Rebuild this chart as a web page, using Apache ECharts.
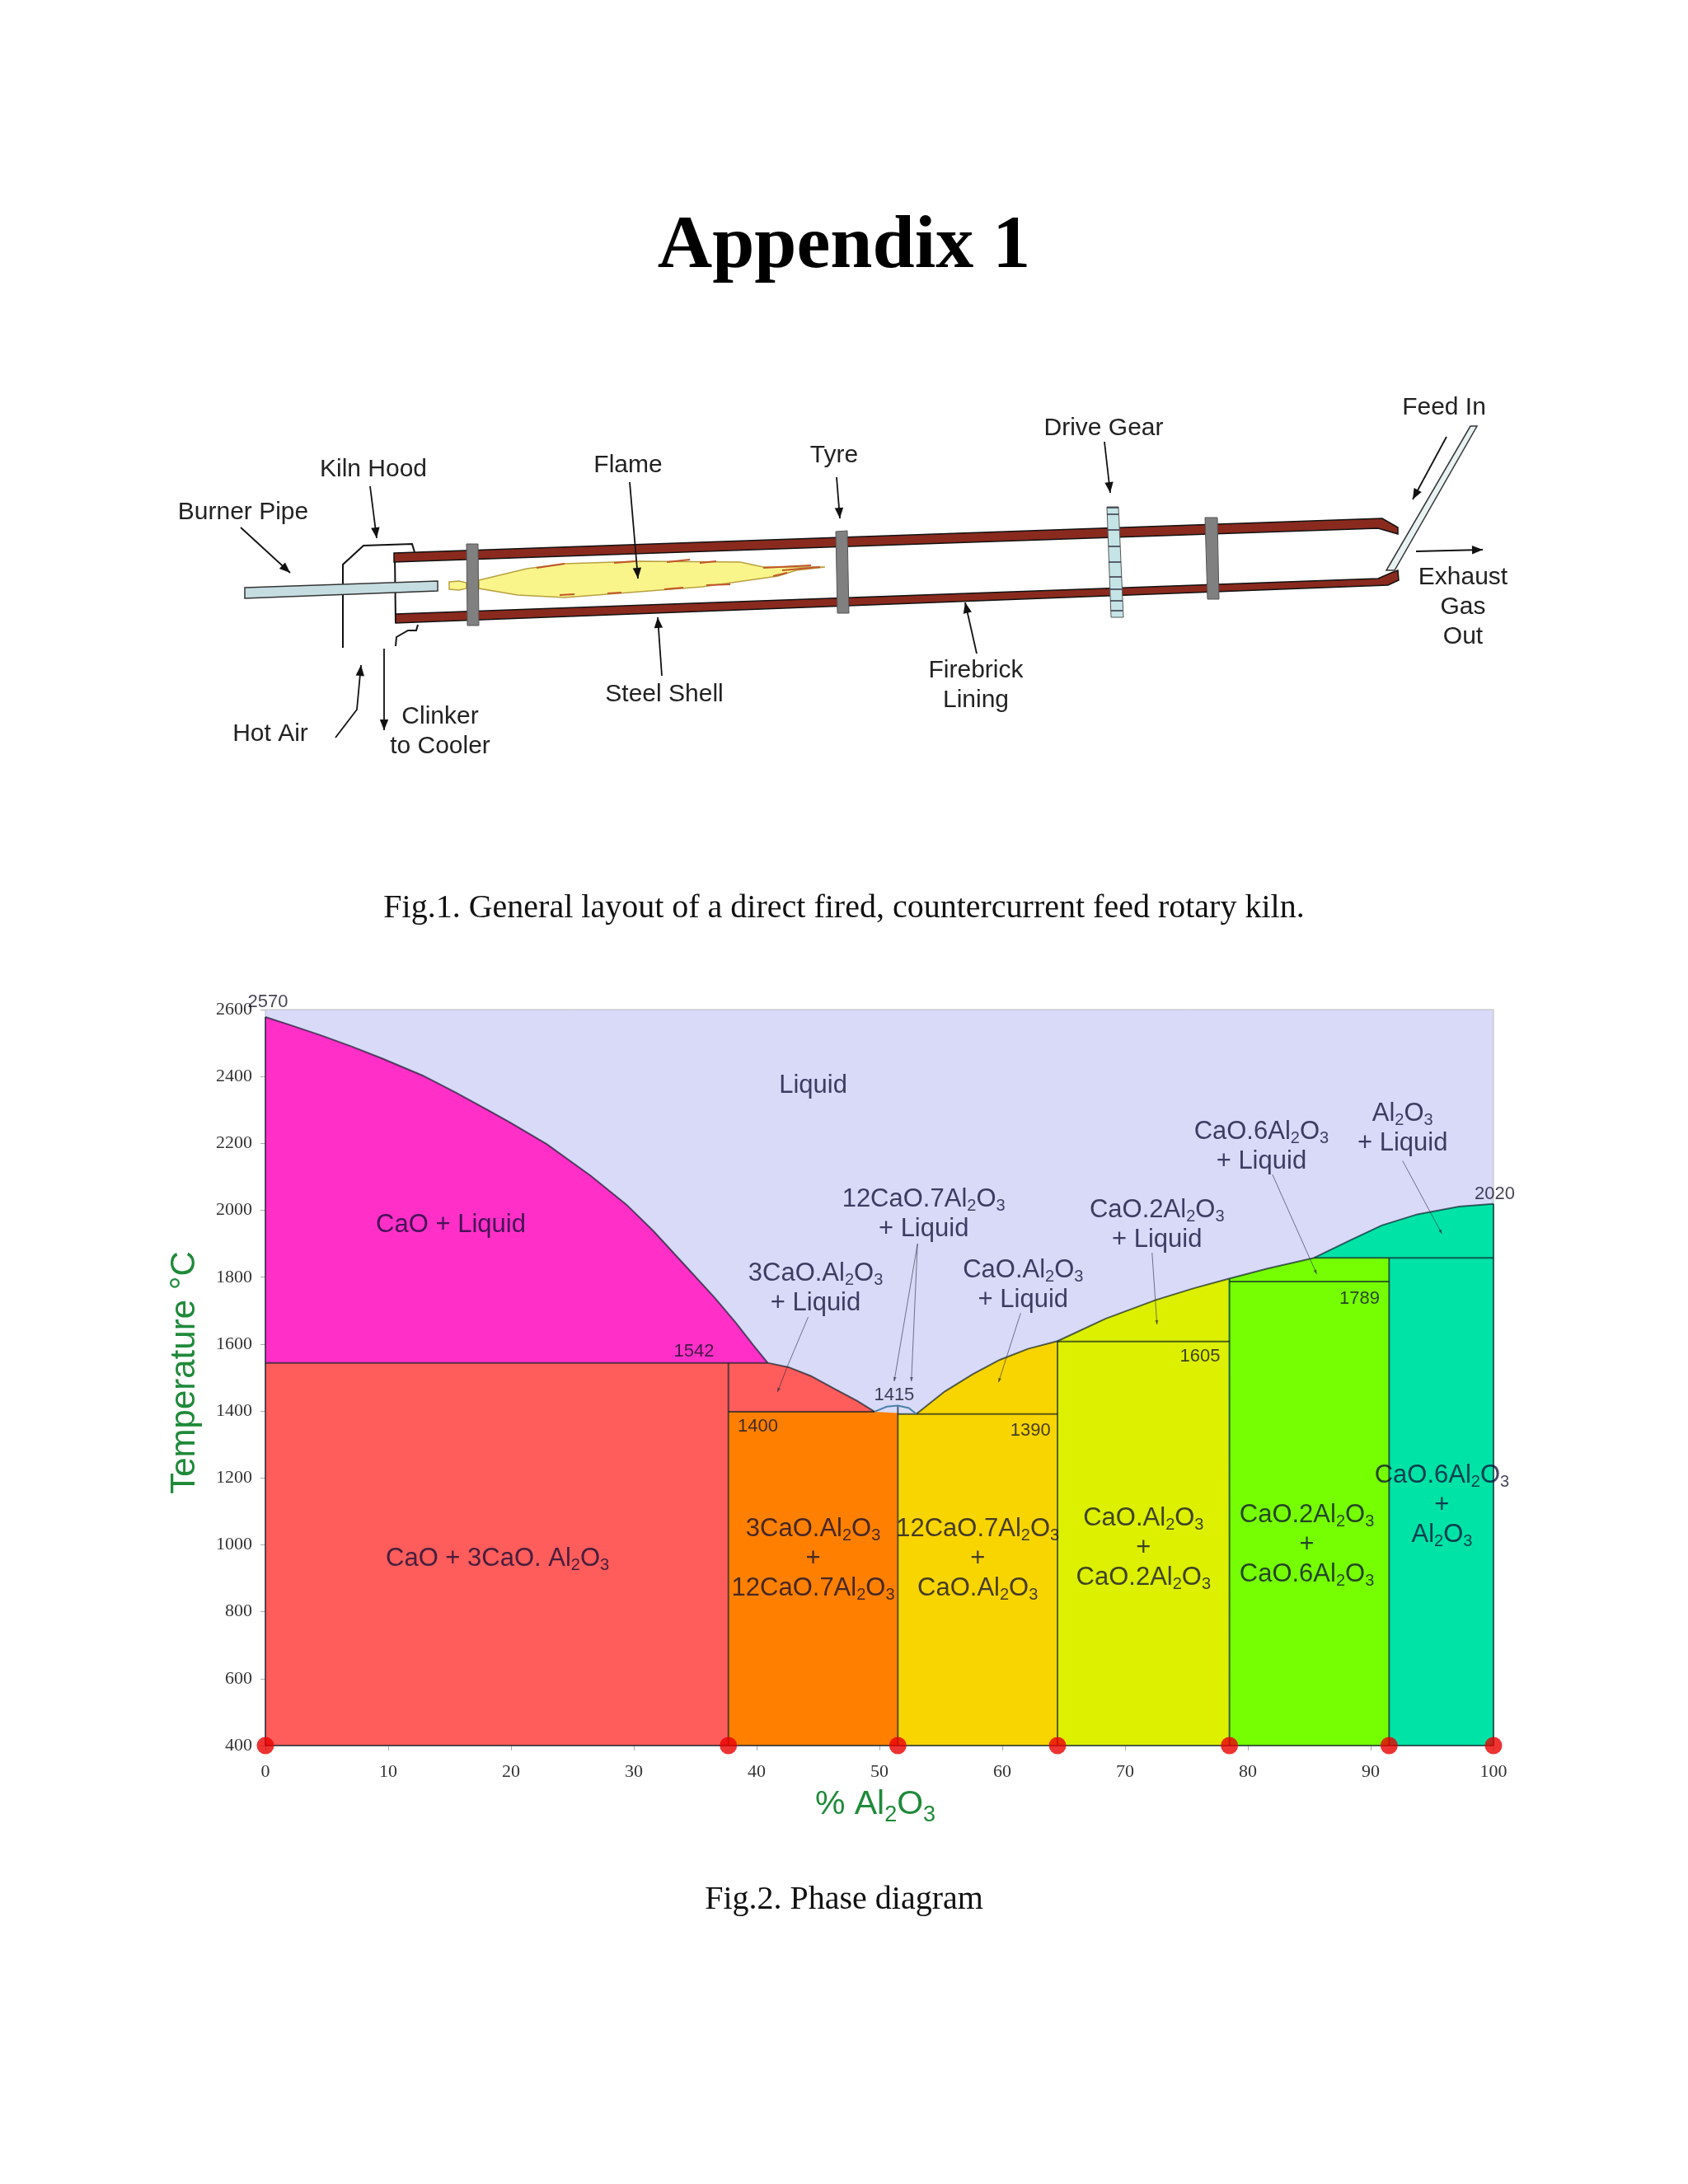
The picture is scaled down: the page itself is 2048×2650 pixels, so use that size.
<!DOCTYPE html>
<html>
<head>
<meta charset="utf-8">
<title>Appendix 1</title>
<script src="https://cdn.jsdelivr.net/npm/echarts@6/dist/echarts.min.js"></script>
<style>
  html, body { margin: 0; padding: 0; background: #fff; }
  #chart { width: 2048px; height: 2650px; }
</style>
</head>
<body>
<div id="chart"></div>
<script>
// phase diagram: x = % Al2O3, y = temperature
var xTicks = [0, 100, 10];
var yTicks = [400, 2600, 200];
var phaseBreaks = [0, 37.7, 51.5, 64.5, 78.5, 91.5, 100];

var limeX = [0, 2.1, 4.6, 7, 9.5, 12.8, 15.5, 18.2, 20, 22.9, 26.5, 29.4, 31.6, 34.3, 36.6, 38.3, 39.7, 40.9];
var limeT = [2578, 2553, 2522, 2490, 2454, 2403, 2352, 2298, 2261, 2198, 2103, 2017, 1938, 1830, 1738, 1664, 1598, 1544];
var c3aX = [40.9, 42.6, 44.4, 46.4, 48.2, 49.6];
var c3aT = [1544, 1531, 1505, 1465, 1430, 1398];
var domeX = [49.6, 50.6, 51.5, 52.4, 53];
var domeT = [1398, 1413, 1416, 1409, 1391];
var caX = [53, 55.3, 57.6, 59.8, 62.1, 64.5];
var caT = [1391, 1458, 1510, 1553, 1586, 1609];
var ca2X = [64.5, 68.4, 72.5, 75.6, 78.4];
var ca2T = [1609, 1676, 1732, 1767, 1795];
var ca6X = [78.4, 81.6, 85.4];
var ca6T = [1795, 1826, 1858];
var aluminaX = [85.4, 88.3, 90.9, 93.8, 97.2, 100];
var aluminaT = [1858, 1910, 1955, 1988, 2011, 2019];

var solidusT = { c: 1544, c3a: 1398, ca: 1391, ca2: 1608, ca6: 1787, alumina: 1858 };

var phaseNames = [
  "Liquid", "CaO + Liquid", "CaO + 3CaO. Al_2O_3", "3CaO.Al_2O_3\n+ Liquid",
  "12CaO.7Al_2O_3\n+ Liquid", "CaO.Al_2O_3\n+ Liquid", "CaO.2Al_2O_3\n+ Liquid",
  "CaO.6Al_2O_3\n+ Liquid", "Al_2O_3\n+ Liquid", "3CaO.Al_2O_3\n+\n12CaO.7Al_2O_3",
  "12CaO.7Al_2O_3\n+\nCaO.Al_2O_3", "CaO.Al_2O_3\n+\nCaO.2Al_2O_3",
  "CaO.2Al_2O_3\n+\nCaO.6Al_2O_3", "CaO.6Al_2O_3\n+\nAl_2O_3"
];
var phaseNameX = [44.6, 15.1, 18.9, 44.8, 53.6, 61.7, 72.6, 81.1, 92.6, 44.6, 58, 71.5, 84.8, 95.8];
var phaseNameT = [2373, 1956, 959, 1767, 1989, 1775, 1955, 2189, 2245, 957, 957, 991, 999, 1119];

var tempNotes = ["2570", "1542", "1400", "1415", "1390", "1605", "1789", "2020"];
var tempNoteX = [0.2, 34.9, 40.1, 51.2, 62.3, 76.1, 89.1, 100.1];
var tempNoteT = [2623, 1578, 1353, 1447, 1342, 1563, 1735, 2049];

var leaders = [
  [[44.2, 1681], [42.5, 1533], [41.7, 1457]],
  [[53.1, 1900], [51.2, 1489]],
  [[53.1, 1900], [52.6, 1489]],
  [[61.5, 1693], [59.7, 1486]],
  [[72.2, 1873], [72.6, 1659]],
  [[82, 2107], [85.6, 1810]],
  [[92.6, 2148], [95.8, 1930]]
];

// kiln sketch in its own hidden axes
var shellUpper = [[478, 671], [1677, 629], [1696, 640], [1696, 648], [1672, 641], [478, 682]];
var shellLower = [[480, 745], [1672, 702], [1688, 695], [1696, 692], [1697, 704], [1684, 710], [480, 756]];
var tyres = [
  [[566, 660], [580, 660], [581, 759], [567, 759]],
  [[1014, 645], [1028, 644], [1030, 744], [1016, 744]],
  [[1462, 628], [1477, 628], [1479, 727], [1465, 727]]
];
var driveGear = [[1343, 615], [1357, 615], [1363, 749], [1348, 749]];
var gearTeeth = [
  [[1343, 616], [1357, 616]], [[1343, 624], [1357, 624]], [[1344, 643], [1358, 643]],
  [[1345, 663], [1359, 663]], [[1345, 682], [1360, 682]], [[1346, 700], [1361, 700]],
  [[1347, 715], [1361, 715]], [[1347, 729], [1362, 729]], [[1348, 741], [1362, 741]]
];
var burnerPipe = [[297, 713], [531, 705], [531, 717], [297, 726]];
var flame = [
  [581, 704], [639, 690], [685, 684], [777, 681], [898, 682], [926, 688], [1001, 688],
  [966, 692], [944, 699], [852, 712], [737, 721], [685, 725], [628, 722], [581, 714]
];
var nozzle = [[545, 706], [557, 705], [566, 707], [566, 714], [557, 716], [545, 715]];
var flameStreaks = [
  [[651, 689], [685, 684]], [[745, 683], [771, 681]], [[809, 682], [837, 679]], [[849, 683], [869, 681]],
  [[926, 689], [984, 686]], [[949, 692], [995, 688]], [[938, 699], [955, 695]], [[857, 710], [886, 709]],
  [[806, 715], [829, 713]], [[737, 720], [754, 719]], [[679, 722], [697, 721]]
];
var hoodLines = [
  [[416, 786], [416, 685], [441, 662], [500, 660], [503, 670]],
  [[480, 784], [481, 773], [495, 765], [505, 765], [507, 758]],
  [[479, 672], [480, 756]]
];
var feedPipe = [[1784, 517], [1792, 517], [1692, 692], [1682, 692]];
var kilnArrows = [
  [[292, 640], [352, 695]], [[449, 590], [457, 653]], [[764, 585], [774, 702]],
  [[1015, 579], [1019, 629]], [[803, 820], [798, 749]], [[407, 895], [433, 861], [438, 807]],
  [[466, 787], [466, 886]], [[1340, 536], [1347, 598]], [[1755, 530], [1714, 606]],
  [[1718, 669], [1799, 667]], [[1185, 793], [1171, 731]]
];
var kilnNames = [
  "Burner Pipe", "Kiln Hood", "Flame", "Tyre", "Steel Shell", "Hot Air", "Clinker\nto Cooler",
  "Drive Gear", "Feed In", "Exhaust\nGas\nOut", "Firebrick\nLining"
];
var kilnNameX = [295, 453, 762, 1012, 806, 328, 534, 1339, 1752, 1775, 1184];
var kilnNameY = [622, 570, 565, 553, 843, 891, 888, 520, 495, 737, 832];

function zipXY(xs, ys) {
  return xs.map(function (x, i) { return [x, ys[i]]; });
}

var limeCurve = zipXY(limeX, limeT);
var c3aCurve = zipXY(c3aX, c3aT);
var domeCurve = zipXY(domeX, domeT);
var caCurve = zipXY(caX, caT);
var ca2Curve = zipXY(ca2X, ca2T);
var ca6Curve = zipXY(ca6X, ca6T);
var aluminaCurve = zipXY(aluminaX, aluminaT);

var b = phaseBreaks;
var regions = [
  [[0, solidusT.c]].concat(limeCurve),
  [[0, 400], [0, solidusT.c], [b[1], solidusT.c], [b[1], 400]],
  [[b[1], solidusT.c3a], [b[1], solidusT.c]].concat(c3aCurve),
  [[b[1], 400], [b[1], solidusT.c3a], [b[2], solidusT.c3a], [b[2], 400]],
  [[b[2], 400], [b[2], solidusT.ca]].concat(caCurve, [[b[3], 400]]),
  [[b[3], 400]].concat(ca2Curve, [[b[4], 400]]),
  [[b[4], 400]].concat(ca6Curve, [[b[5], solidusT.alumina], [b[5], 400]]),
  [[b[5], 400], [b[5], solidusT.alumina]].concat(aluminaCurve, [[b[6], 400]])
];
var regionColors = ["#ff2fc8", "#ff5c5c", "#ff5c5c", "#ff8000", "#f9d500", "#dcf000", "#76ff03", "#00e3a6"];

var boundaries = [
  limeCurve, c3aCurve, caCurve, ca2Curve, ca6Curve, aluminaCurve,
  [[0, solidusT.c], [40.9, solidusT.c]],
  [[b[1], solidusT.c3a], [49.6, solidusT.c3a]],
  [[b[2], solidusT.ca], [b[3], solidusT.ca]],
  [[b[3], solidusT.ca2], [b[4], solidusT.ca2]],
  [[b[4], solidusT.ca6], [b[5], solidusT.ca6]],
  [[85.4, solidusT.alumina], [100, solidusT.alumina]],
  [[0, 400], [0, 2578]],
  [[0, 400], [100, 400]],
  [[b[1], 400], [b[1], solidusT.c]],
  [[b[2], 400], [b[2], 1416]],
  [[b[3], 400], [b[3], 1609]],
  [[b[4], 400], [b[4], 1795]],
  [[b[5], 400], [b[5], solidusT.alumina]],
  [[100, 400], [100, 2019]]
];

var chartFont = "'Liberation Sans', Arial, sans-serif";
var serifFont = "'Liberation Serif', 'Times New Roman', serif";

// "Al_2O_3" -> rich text with real subscripts
function subscripted(text) {
  return text.split("\n").map(function (line) {
    return line.split(/_(\d)/).map(function (part, i) {
      return (i % 2 ? "{s|" : "{n|") + part + "}";
    }).join("");
  }).join("\n");
}

function customSeries(list, axis, draw) {
  return {
    type: "custom",
    coordinateSystem: "cartesian2d",
    xAxisIndex: axis,
    yAxisIndex: axis,
    silent: true,
    clip: false,
    data: list.map(function (item, i) { return [i, i]; }),
    renderItem: function (params, api) {
      return draw(list[params.dataIndex], params.dataIndex, api);
    }
  };
}

function polygonSeries(list, axis, style) {
  return customSeries(list, axis, function (pts, i, api) {
    return {
      type: "polygon",
      shape: { points: pts.map(function (p) { return api.coord(p); }) },
      style: { fill: style.fills ? style.fills[i] : style.fill, stroke: style.stroke, lineWidth: style.lineWidth || 0 }
    };
  });
}

function lineSeries(list, axis, style) {
  return customSeries(list, axis, function (pts, i, api) {
    return {
      type: "polyline",
      shape: { points: pts.map(function (p) { return api.coord(p); }) },
      style: { fill: null, stroke: style.stroke, lineWidth: style.lineWidth }
    };
  });
}

function arrowSeries(list, axis, style) {
  return customSeries(list, axis, function (pts, i, api) {
    var c = pts.map(function (p) { return api.coord(p); });
    var tip = c[c.length - 1], from = c[c.length - 2];
    var a = Math.atan2(tip[1] - from[1], tip[0] - from[0]);
    var h = style.head;
    var left = [tip[0] - h * Math.cos(a) + h * 0.4 * Math.sin(a), tip[1] - h * Math.sin(a) - h * 0.4 * Math.cos(a)];
    var right = [tip[0] - h * Math.cos(a) - h * 0.4 * Math.sin(a), tip[1] - h * Math.sin(a) + h * 0.4 * Math.cos(a)];
    return {
      type: "group",
      children: [
        { type: "polyline", shape: { points: c }, style: { fill: null, stroke: style.stroke, lineWidth: style.lineWidth } },
        { type: "polygon", shape: { points: [tip, left, right] }, style: { fill: style.stroke } }
      ]
    };
  });
}

function textSeries(texts, xs, ys, axis, style) {
  return customSeries(texts, axis, function (text, i, api) {
    var c = api.coord([xs[i], ys[i]]);
    return {
      type: "text",
      x: c[0],
      y: c[1],
      style: {
        text: subscripted(text),
        align: "center",
        verticalAlign: "middle",
        rich: {
          n: { fontFamily: chartFont, fontSize: style.size, lineHeight: style.lineHeight, fill: style.color },
          s: { fontFamily: chartFont, fontSize: Math.round(style.size * 0.66), lineHeight: style.lineHeight, verticalAlign: "bottom", fill: style.color }
        }
      }
    };
  });
}

var series = [
  // phase diagram
  polygonSeries(regions, 0, { fills: regionColors }),
  polygonSeries([domeCurve], 0, { fill: "#d8daf8" }),
  lineSeries(boundaries, 0, { stroke: "rgba(10,30,40,0.68)", lineWidth: 2 }),
  lineSeries([domeCurve], 0, { stroke: "#4a80a8", lineWidth: 2 }),
  arrowSeries(leaders, 0, { stroke: "rgba(40,40,60,0.6)", lineWidth: 1, head: 5 }),
  textSeries(phaseNames, phaseNameX, phaseNameT, 0, { size: 31, lineHeight: 36, color: "rgba(10,10,50,0.76)" }),
  textSeries(tempNotes, tempNoteX, tempNoteT, 0, { size: 22, lineHeight: 26, color: "rgba(20,20,40,0.8)" }),
  {
    type: "scatter",
    xAxisIndex: 0,
    yAxisIndex: 0,
    silent: true,
    clip: false,
    symbolSize: 21,
    itemStyle: { color: "#ea0000" },
    data: phaseBreaks.map(function (x) { return [x, 400]; })
  },
  // kiln sketch
  lineSeries(hoodLines, 1, { stroke: "#111", lineWidth: 2 }),
  polygonSeries([shellUpper, shellLower], 1, { fill: "#8a2a1e", stroke: "#111", lineWidth: 1.5 }),
  polygonSeries([burnerPipe], 1, { fill: "#c5dde0", stroke: "#333", lineWidth: 1.5 }),
  polygonSeries([flame, nozzle], 1, { fill: "#faf58a", stroke: "#b8a040", lineWidth: 1.5 }),
  lineSeries(flameStreaks, 1, { stroke: "#c0552a", lineWidth: 2 }),
  polygonSeries(tyres, 1, { fill: "#808080", stroke: "#555", lineWidth: 1 }),
  polygonSeries([driveGear], 1, { fill: "#c5e4e6", stroke: "#555", lineWidth: 1 }),
  lineSeries(gearTeeth, 1, { stroke: "#334", lineWidth: 1.5 }),
  polygonSeries([feedPipe], 1, { fill: "#e8f2f2", stroke: "#333", lineWidth: 1.5 }),
  arrowSeries(kilnArrows, 1, { stroke: "#111", lineWidth: 1.8, head: 13 }),
  textSeries(kilnNames, kilnNameX, kilnNameY, 1, { size: 30, lineHeight: 36, color: "#222" })
];

var option = {
  animation: false,
  backgroundColor: "#fff",
  title: [
    {
      text: "Appendix 1", left: "center", top: 249,
      textStyle: { fontFamily: serifFont, fontSize: 92, fontWeight: "bold", color: "#000" }
    },
    {
      text: "Fig.1. General layout of a direct fired, countercurrent feed rotary kiln.", left: "center", top: 1077,
      textStyle: { fontFamily: serifFont, fontSize: 40, fontWeight: "normal", color: "#111" }
    },
    {
      text: "Fig.2. Phase diagram", left: "center", top: 2280,
      textStyle: { fontFamily: serifFont, fontSize: 40, fontWeight: "normal", color: "#111" }
    }
  ],
  grid: [
    { left: 322, top: 1225, width: 1490, height: 893, show: true, backgroundColor: "#d8daf8", borderColor: "#bbb", borderWidth: 1 },
    { left: 0, top: 0, width: 2048, height: 1000 }
  ],
  xAxis: [
    {
      type: "value", gridIndex: 0, min: xTicks[0], max: xTicks[1], interval: xTicks[2],
      name: "{n|% Al}{s|2}{n|O}{s|3}", nameLocation: "middle", nameGap: 46,
      nameTextStyle: {
        padding: [0, 10, 0, 0],
        rich: {
          n: { fontFamily: chartFont, fontSize: 41, lineHeight: 52, color: "#1f8a3a" },
          s: { fontFamily: chartFont, fontSize: 27, lineHeight: 52, verticalAlign: "bottom", color: "#1f8a3a" }
        }
      },
      axisLine: { show: false },
      axisTick: { show: true, length: 6, lineStyle: { color: "#aaa" } },
      axisLabel: { fontFamily: serifFont, fontSize: 22, color: "#333", margin: 21 },
      splitLine: { show: false }
    },
    { type: "value", gridIndex: 1, min: 0, max: 2048, show: false }
  ],
  yAxis: [
    {
      type: "value", gridIndex: 0, min: yTicks[0], max: yTicks[1], interval: yTicks[2],
      name: "Temperature °C", nameLocation: "middle", nameGap: 77,
      nameTextStyle: { fontFamily: chartFont, fontSize: 42, color: "#1f8a3a", padding: [0, 0, 0, 12] },
      axisLine: { show: false },
      axisTick: { show: true, length: 6, lineStyle: { color: "#aaa" } },
      axisLabel: {
        fontFamily: serifFont, fontSize: 22, color: "#333", margin: 16,
        formatter: function (v) { return String(v); }
      },
      splitLine: { show: false }
    },
    { type: "value", gridIndex: 1, min: 0, max: 1000, inverse: true, show: false }
  ],
  series: series
};

var chart = echarts.init(document.getElementById("chart"));
chart.setOption(option);
</script>
</body>
</html>
